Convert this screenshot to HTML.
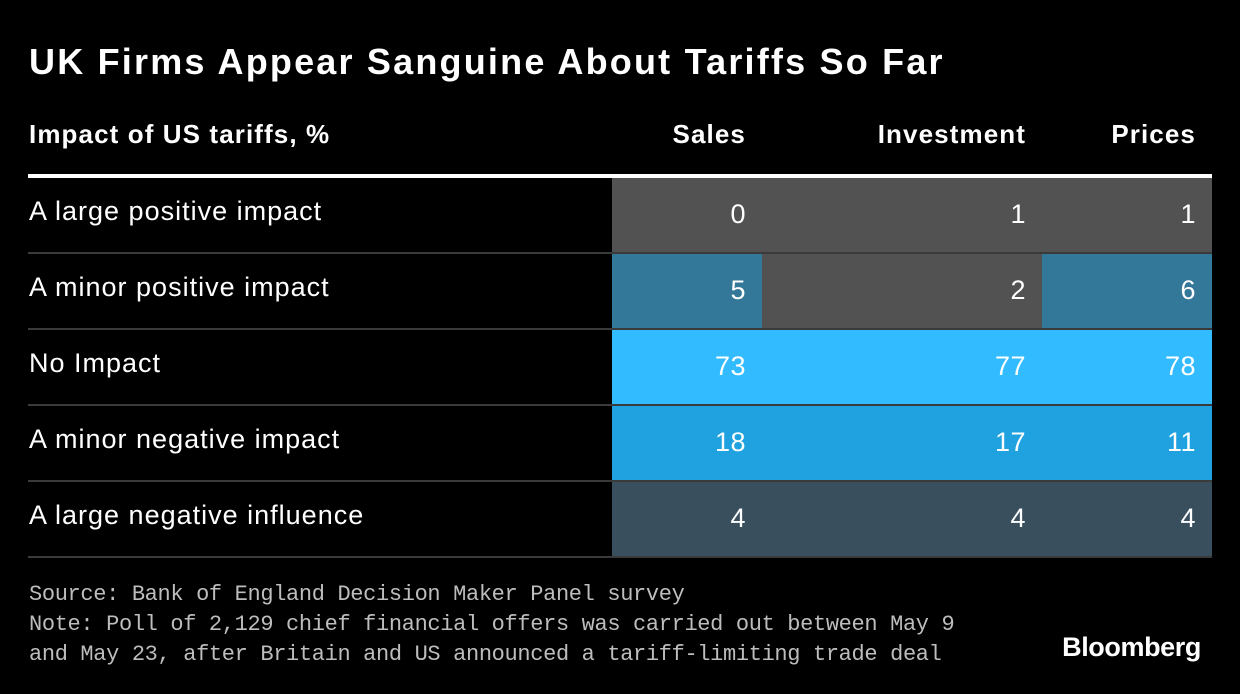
<!DOCTYPE html>
<html><head><meta charset="utf-8"><style>
body{margin:0;background:#000;width:1240px;height:694px;overflow:hidden;font-family:"Liberation Sans",sans-serif;color:#fff;position:relative}
.a{position:absolute;white-space:nowrap}
</style></head><body>
<div class="a" style="left:29px;top:41px;font-size:36px;font-weight:bold;letter-spacing:2.2px">UK Firms Appear Sanguine About Tariffs So Far</div>
<div class="a" style="left:29px;top:119px;font-size:26px;font-weight:bold;letter-spacing:1.1px">Impact of US tariffs, %</div>
<div class="a" style="right:494px;top:119px;font-size:26px;font-weight:bold;letter-spacing:1.1px">Sales</div>
<div class="a" style="right:214px;top:119px;font-size:26px;font-weight:bold;letter-spacing:1.1px">Investment</div>
<div class="a" style="right:44px;top:119px;font-size:26px;font-weight:bold;letter-spacing:1.1px">Prices</div>
<div class="a" style="left:28px;top:174px;width:1184px;height:4px;background:#fff"></div>
<div id="tbl"></div>
<div class="a" style="left:29px;top:580px;font-family:'Liberation Mono',monospace;font-size:22px;line-height:30px;color:#bdbdbd;letter-spacing:-0.35px">Source: Bank of England Decision Maker Panel survey<br>Note: Poll of 2,129 chief financial offers was carried out between May 9<br>and May 23, after Britain and US announced a tariff-limiting trade deal</div>
<div class="a" style="right:39px;top:632px;font-size:27px;font-weight:bold;letter-spacing:-0.4px">Bloomberg</div>
<script>
const rows=["A large positive impact","A minor positive impact","No Impact","A minor negative impact","A large negative influence"];
const sales=[0,5,73,18,4];
const investment=[1,2,77,17,4];
const prices=[1,6,78,11,4];
const cols=[sales,investment,prices];
const colX=[612,762,1042,1212];
function color(v){if(v<=2)return"#525252";if(v<=4)return"#3a4f5e";if(v<=9)return"#337799";if(v<=40)return"#1fa2df";return"#33bbff";}
const t=document.getElementById('tbl');
rows.forEach((r,i)=>{
 const y=178+i*76;
 const lab=document.createElement('div');lab.className='a';
 
 
 lab.style.cssText=`left:29px;top:${y+18}px;font-size:27px;letter-spacing:1px`;lab.textContent=r;t.appendChild(lab);
 cols.forEach((c,j)=>{
  const d=document.createElement('div');d.className='a';
  
  
  d.style.cssText=`left:${colX[j]}px;top:${y}px;width:${colX[j+1]-colX[j]-16}px;height:74px;padding-right:16px;background:${color(c[i])};text-align:right;font-size:27px;line-height:72px;letter-spacing:0.5px`;
  d.textContent=c[i];t.appendChild(d);
 });
 const s=document.createElement('div');s.className='a';
 
 
 s.style.cssText=`left:28px;top:${y+74}px;width:1184px;height:2px;background:#3a3a3a`;t.appendChild(s);
});
</script>
</body></html>
